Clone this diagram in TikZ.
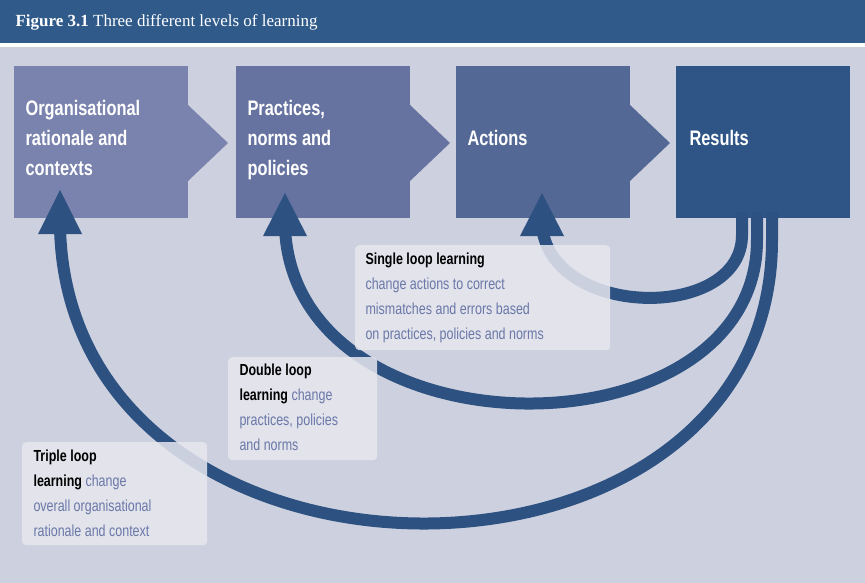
\documentclass[tikz,border=0pt]{standalone}
\usepackage{fontspec}
\setmainfont{Liberation Sans}[FakeStretch=0.78]
\newfontfamily\ttlfont{Liberation Serif}
\begin{document}
\begin{tikzpicture}[x=1pt,y=-1pt,
  box/.style={anchor=north west,minimum width=174pt,minimum height=152pt,inner sep=0pt},
  btxt/.style={anchor=north west,align=left,text=white,font=\bfseries\fontsize{21}{30}\selectfont},
  loop/.style={draw=arrowc,line width=12pt},
  head/.style={fill=arrowc},
  lbl/.style={anchor=north west,fill=labelbg,fill opacity=0.85,text opacity=1,rounded corners=4pt,inner sep=0pt},
  ltxt/.style={anchor=north west,align=left,font=\fontsize{16}{25}\selectfont,text=bodyc}]
\definecolor{bg}{HTML}{CDD0DE}
\definecolor{titlec}{HTML}{2F5A8A}
\definecolor{c1}{HTML}{7A82AE}
\definecolor{c2}{HTML}{6673A0}
\definecolor{c3}{HTML}{536894}
\definecolor{c4}{HTML}{2E5585}
\definecolor{arrowc}{HTML}{2D5282}
\definecolor{labelbg}{HTML}{E6E7EE}
\definecolor{bodyc}{HTML}{6A78A8}
\useasboundingbox (0,0) rectangle (865,583);
\fill[bg] (0,0) rectangle (865,583);
\fill[titlec] (0,0) rectangle (865,43);
\fill[white] (0,43) rectangle (865,47);
\node[anchor=west,text=white,font=\ttlfont\fontsize{17}{20}\selectfont] (title) at (12,22) {\textbf{Figure 3.1} Three different levels of learning};
% boxes with notches
\fill[c1] (14,66) rectangle (188,218);
\fill[c1] (188,105) -- (228,143) -- (188,181) -- cycle;
\fill[c2] (236,66) rectangle (410,218);
\fill[c2] (410,105) -- (450,143) -- (410,181) -- cycle;
\fill[c3] (456,66) rectangle (630,218);
\fill[c3] (630,105) -- (670,143) -- (630,181) -- cycle;
\fill[c4] (676,66) rectangle (850,218);
\node[box] (b1) at (14,66) {};
\node[box] (b2) at (236,66) {};
\node[box] (b3) at (456,66) {};
\node[box] (b4) at (676,66) {};
\node[btxt] (t1) at (22,97) {Organisational\\rationale and\\contexts};
\node[btxt] (t2) at (244,97) {Practices,\\norms and\\policies};
\node[btxt] (t3) at (464,127) {Actions};
\node[btxt] (t4) at (686,127) {Results};
% loops
\draw[loop] (772,212) -- (772,240) .. controls (772,620) and (70,620) .. (60,228);
\draw[loop] (757,212) -- (757,240) .. controls (757,460) and (295,460) .. (285,228);
\draw[loop] (742,212) -- (742,235) .. controls (742,320) and (555,320) .. (542,228);
\fill[head] (60,190) -- (38,234) -- (82,234) -- cycle;
\fill[head] (285,193) -- (263,236) -- (307,236) -- cycle;
\fill[head] (542,193) -- (520,236) -- (564,236) -- cycle;
% labels
\node[lbl,minimum width=255pt,minimum height=105pt] (l1) at (355,245) {};
\node[ltxt] (lt1) at (362,249) {\textcolor{black}{\bfseries Single loop learning}\\change actions to correct\\mismatches and errors based\\on practices, policies and norms};
\node[lbl,minimum width=149pt,minimum height=103pt] (l2) at (228,357) {};
\node[ltxt] (lt2) at (236,360) {\textcolor{black}{\bfseries Double loop}\\\textcolor{black}{\bfseries learning} change\\practices, policies\\and norms};
\node[lbl,minimum width=185pt,minimum height=103pt] (l3) at (22,442) {};
\node[ltxt] (lt3) at (30,446) {\textcolor{black}{\bfseries Triple loop}\\\textcolor{black}{\bfseries learning} change\\overall organisational\\rationale and context};
\end{tikzpicture}
\end{document}
